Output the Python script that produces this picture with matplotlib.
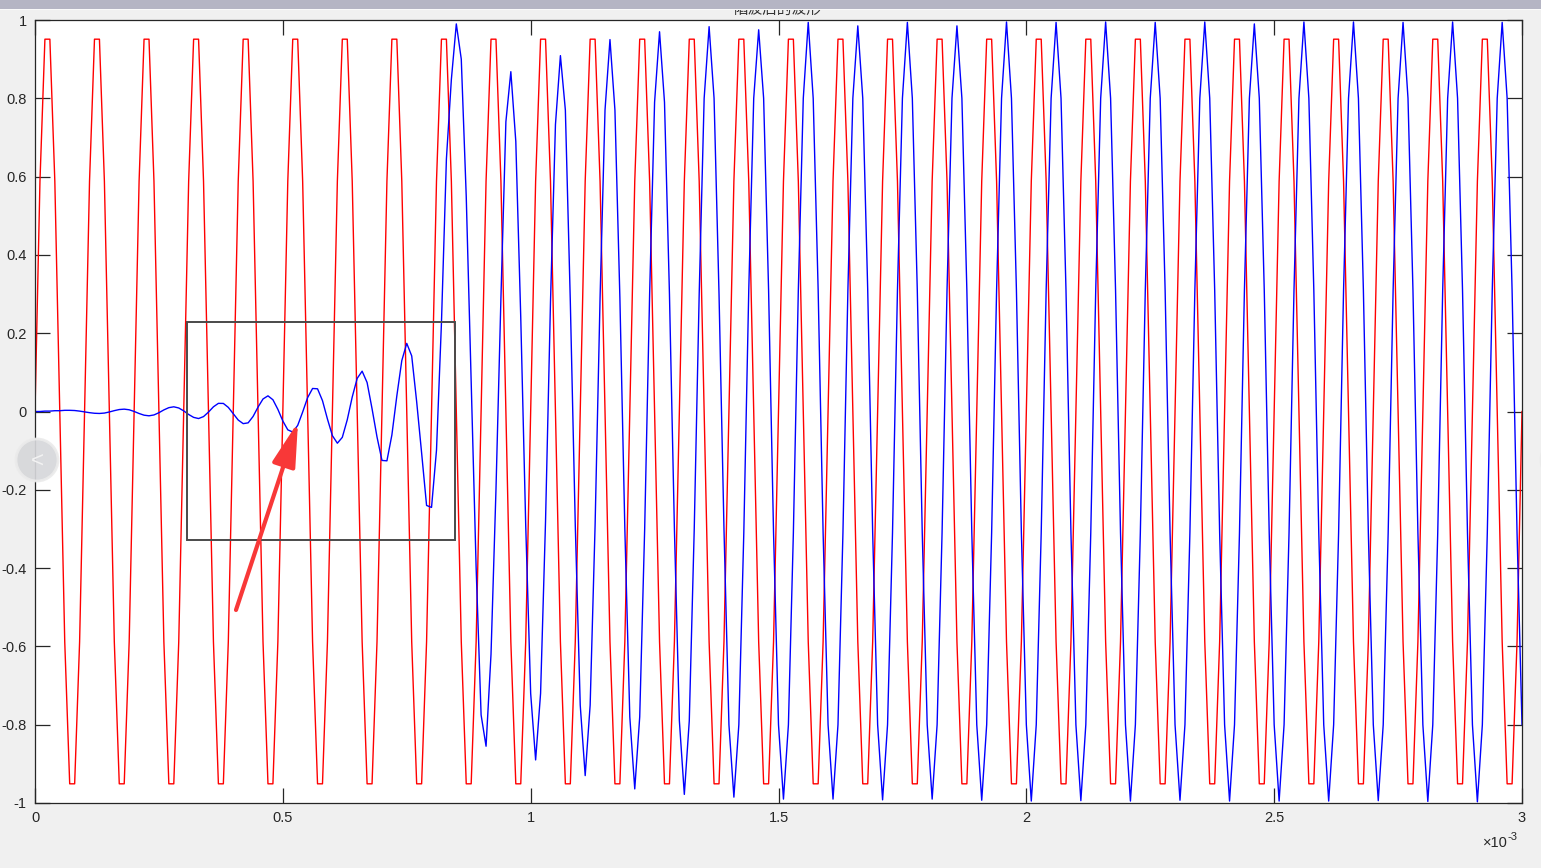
import numpy as np
import matplotlib.pyplot as plt
from matplotlib.patches import Rectangle, Ellipse
from matplotlib.ticker import FuncFormatter

plt.rcParams['font.family'] = ['Liberation Sans', 'Noto Sans CJK SC', 'DejaVu Sans']
plt.rcParams['axes.unicode_minus'] = False

fs = 1e5  # sample rate, 10 samples per period of the 10 kHz input

# input sine (red), one period
red_cycle = [0.0, 0.588, 0.951, 0.951, 0.588, 0.0, -0.588, -0.951, -0.951, -0.588]
red = red_cycle * 30 + [0.0]

# filter output (blue), samples 0..141
blue_start = [
    0.0, 0.0, 0.001, 0.001, 0.002, 0.002, 0.003, 0.003, 0.0025, 0.001,
    -0.001, -0.003, -0.0045, -0.005, -0.004, -0.0012, 0.0022, 0.005, 0.006, 0.0044,
    0.0001, -0.0051, -0.0094, -0.011, -0.0088, -0.0031, 0.0041, 0.0098, 0.012, 0.009,
    0.0016, -0.0076, -0.015, -0.018, -0.013, -0.0015, 0.012, 0.0208, 0.0206, 0.0105,
    -0.0058, -0.0218, -0.031, -0.029, -0.0126, 0.0113, 0.032, 0.040, 0.030, 0.0055,
    -0.0243, -0.0468, -0.0525, -0.0355, -0.0013, 0.0354, 0.0588, 0.058, 0.0277, -0.0192,
    -0.0617, -0.081, -0.066, -0.021, 0.037, 0.0846, 0.103, 0.074, 0.007, -0.065,
    -0.125, -0.126, -0.06, 0.04, 0.13, 0.174, 0.142, 0.025, -0.106, -0.240,
    -0.245, -0.099, 0.226, 0.645, 0.848, 0.99, 0.90, 0.55, 0.08, -0.40,
    -0.775, -0.855, -0.62, -0.20, 0.29, 0.74, 0.868, 0.69, 0.24, -0.29,
    -0.72, -0.89, -0.72, -0.28, 0.28, 0.733, 0.909, 0.77, 0.28, -0.29,
    -0.75, -0.93, -0.75, -0.29, 0.29, 0.77, 0.95, 0.77, 0.29, -0.30,
    -0.78, -0.964, -0.78, -0.30, 0.30, 0.79, 0.97, 0.79, 0.30, -0.30,
    -0.79, -0.978, -0.79, -0.30, 0.30, 0.80, 0.983, 0.80, 0.30, -0.30,
    -0.80, -0.985,
]
# samples 142..291, one row per period
blue_steady = [
    [-0.80, -0.31, 0.31, 0.80, 0.975, 0.80, 0.31, -0.31, -0.80, -0.990],
    [-0.80, -0.31, 0.31, 0.80, 0.994, 0.80, 0.31, -0.31, -0.80, -0.990],
    [-0.80, -0.31, 0.31, 0.80, 0.985, 0.80, 0.31, -0.31, -0.80, -0.992],
    [-0.80, -0.31, 0.31, 0.80, 0.994, 0.80, 0.31, -0.31, -0.80, -0.990],
    [-0.80, -0.31, 0.31, 0.80, 0.985, 0.80, 0.31, -0.31, -0.80, -0.993],
    [-0.80, -0.31, 0.31, 0.80, 0.995, 0.80, 0.31, -0.31, -0.80, -0.995],
    [-0.80, -0.31, 0.31, 0.80, 0.994, 0.80, 0.31, -0.31, -0.80, -0.994],
    [-0.80, -0.31, 0.31, 0.80, 0.995, 0.80, 0.31, -0.31, -0.80, -0.995],
    [-0.80, -0.31, 0.31, 0.80, 0.994, 0.80, 0.31, -0.31, -0.80, -0.993],
    [-0.80, -0.31, 0.31, 0.80, 0.995, 0.80, 0.31, -0.31, -0.80, -0.995],
    [-0.80, -0.31, 0.31, 0.80, 0.990, 0.80, 0.31, -0.31, -0.80, -0.995],
    [-0.80, -0.31, 0.31, 0.80, 0.995, 0.80, 0.31, -0.31, -0.80, -0.995],
    [-0.80, -0.31, 0.31, 0.80, 0.995, 0.80, 0.31, -0.31, -0.80, -0.994],
    [-0.80, -0.31, 0.31, 0.80, 0.994, 0.80, 0.31, -0.31, -0.80, -0.996],
    [-0.80, -0.31, 0.31, 0.80, 0.995, 0.80, 0.31, -0.31, -0.80, -0.997],
]
# samples 292..300
blue_end = [-0.80, -0.31, 0.31, 0.80, 0.994, 0.80, 0.31, -0.31, -0.80]

blue = blue_start + [v for row in blue_steady for v in row] + blue_end
t = np.arange(len(red)) / fs

# highlighted region and arrow (data coords)
box_x = (0.307e-3, 0.847e-3)
box_y = (-0.328, 0.229)
arrow_tail = (0.4055e-3, -0.507)
arrow_head = (0.5306e-3, -0.027)

W, H = 1541, 868
fig = plt.figure(figsize=(W / 100, H / 100), dpi=100, facecolor='#f0f0f0')
ax = fig.add_axes([35 / W, 1 - 803 / H, 1487 / W, 783 / H])

ax.plot(t, red, color='red', lw=1.0)
ax.plot(t, blue, color='blue', lw=1.0)

ax.add_patch(Rectangle((box_x[0], box_y[0]), box_x[1] - box_x[0], box_y[1] - box_y[0],
                       fill=False, edgecolor='#4a4a4a', lw=1.4, zorder=4))
ax.annotate('', xy=arrow_head, xytext=arrow_tail,
            arrowprops=dict(arrowstyle='-|>,head_length=1.5,head_width=0.4',
                            color='#f83838', lw=3.0, mutation_scale=18,
                            shrinkA=0, shrinkB=0), zorder=5)

ax.set_xlim(0, 3e-3)
ax.set_ylim(-1, 1)
ax.set_xticks(np.arange(0, 3.01e-3, 0.5e-3))
ax.set_yticks(np.arange(-1, 1.01, 0.2))
ax.xaxis.set_major_formatter(FuncFormatter(lambda v, p: '%g' % (round(v * 1e3, 2) + 0.0)))
ax.yaxis.set_major_formatter(FuncFormatter(lambda v, p: '%g' % (round(v, 2) + 0.0)))
ax.tick_params(direction='in', length=11, width=0.9, top=True, right=True,
               labelsize=10.5, colors='#262626', pad=6)
for s in ax.spines.values():
    s.set_color('#262626')
    s.set_linewidth(0.9)

# x-axis exponent
fig.text(1508 / W, 1 - 843 / H, '×10', ha='right', va='center', fontsize=10.5, color='#262626')
fig.text(1508 / W, 1 - 837 / H, '-3', ha='left', va='center', fontsize=8, color='#262626')

# title, partly hidden by the window bar
fig.text(778 / W, 1 - 14 / H, '陷波后的波形', ha='center', va='baseline',
         fontsize=10.5, color='#333333', family=['Noto Sans CJK SC', 'DejaVu Sans'])
fig.patches.append(Rectangle((0, 1 - 9 / H), 1, 9 / H, transform=fig.transFigure,
                             facecolor='#b5b5c4', edgecolor='none', zorder=10))
fig.patches.append(Rectangle((0, 1 - 10 / H), 1, 1 / H, transform=fig.transFigure,
                             facecolor='#fafafa', edgecolor='none', zorder=10))

# viewer navigation buttons
for cx in (37, 1562):
    fig.patches.append(Ellipse((cx / W, 1 - 460 / H), 42 / W, 42 / H, transform=fig.transFigure,
                               facecolor='#d6d7da', edgecolor='#ebebeb', lw=2, alpha=0.92,
                               zorder=10))
fig.text(37 / W, 1 - 461 / H, '<', ha='center', va='center', fontsize=16,
         color='#f2f2f2', zorder=11)

fig.savefig('out.png', dpi=100, facecolor=fig.get_facecolor())
